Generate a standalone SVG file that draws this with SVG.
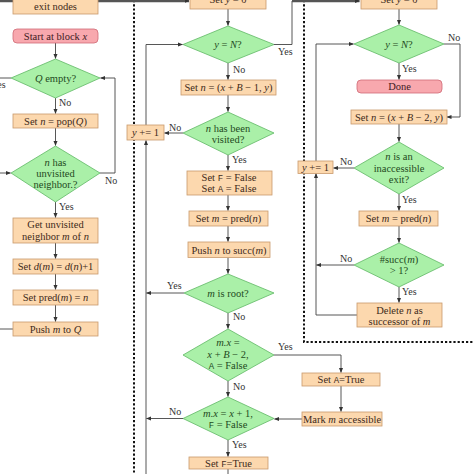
<svg xmlns="http://www.w3.org/2000/svg" width="474" height="474" viewBox="0 0 474 474">
<style>
text{font-family:"Liberation Serif","DejaVu Serif",serif;font-size:10.5px;text-anchor:middle}
.i{font-style:italic}
.tt{font-family:"Liberation Mono","DejaVu Sans Mono",monospace;font-size:9px}
.box rect{fill:#FCD8AE;stroke:#C99A6C;stroke-width:0.8}
.box text{fill:#3E2A1A}
.dia polygon{fill:#AAF0A8;stroke:#5FB865;stroke-width:0.8}
.dia text{fill:#1F4A22}
.term rect{fill:#F8A8AE;stroke:#CF6B76;stroke-width:0.8}
.term text{fill:#3E1A1E}
.lbl{fill:#333;text-anchor:start;font-size:10px}
#conn path{fill:none;stroke:#444;stroke-width:0.9}
.dash{fill:none;stroke:#111;stroke-width:2;stroke-dasharray:2.2 2}
</style>
<defs>
<marker id="ar" viewBox="0 0 10 10" refX="9" refY="5" markerWidth="5" markerHeight="5" orient="auto" markerUnits="userSpaceOnUse">
<path d="M0,1 L10,5 L0,9 z" fill="#333"/>
</marker>
</defs>
<rect width="474" height="474" fill="#fff"/>
<g id="dashed">
<path class="dash" d="M134,0 V474"/>
<path class="dash" d="M304,0 V342 H474"/>
</g>
<g id="conn">
<path d="M0,1 H189" style="stroke:#555;stroke-width:2.6" marker-end="url(#ar)"/>
<path d="M55.5,43 V58.5" marker-end="url(#ar)"/>
<path d="M11,78 H-5"/>
<path d="M55.5,98 V113.5" marker-end="url(#ar)"/>
<path d="M55.5,128 V145.5" marker-end="url(#ar)"/>
<path d="M-5,173 H10.5" marker-end="url(#ar)"/>
<path d="M100,173 H115 V78 H100.5" marker-end="url(#ar)"/>
<path d="M55.5,202 V217.5" marker-end="url(#ar)"/>
<path d="M55.5,243 V258.5" marker-end="url(#ar)"/>
<path d="M55.5,274 V289.5" marker-end="url(#ar)"/>
<path d="M55.5,305 V321.5" marker-end="url(#ar)"/>
<path d="M13,329 H-5"/>
<path d="M228,9 V25.5" marker-end="url(#ar)"/>
<path d="M274,44.5 H292 V1"/>
<path d="M292,1 H359.5" style="stroke:#555;stroke-width:2.6" marker-end="url(#ar)"/>
<path d="M228,63 V79.5" marker-end="url(#ar)"/>
<path d="M228,95 V111.5" marker-end="url(#ar)"/>
<path d="M183,133 H164.5" marker-end="url(#ar)"/>
<path d="M146,125 V44.5 H182.5" marker-end="url(#ar)"/>
<path d="M146,480 V140.5" marker-end="url(#ar)"/>
<path d="M228,155 V170.5" marker-end="url(#ar)"/>
<path d="M228,195 V210.5" marker-end="url(#ar)"/>
<path d="M228,226 V241.5" marker-end="url(#ar)"/>
<path d="M228,257.5 V273.5" marker-end="url(#ar)"/>
<path d="M184,293 H146.5" marker-end="url(#ar)"/>
<path d="M228,313 V328.5" marker-end="url(#ar)"/>
<path d="M274,355 H341 V372.5" marker-end="url(#ar)"/>
<path d="M341,386 V411.5" marker-end="url(#ar)"/>
<path d="M302,419 H274.5" marker-end="url(#ar)"/>
<path d="M228,381 V396.5" marker-end="url(#ar)"/>
<path d="M183,418.5 H146.5" marker-end="url(#ar)"/>
<path d="M228,440 V456.5" marker-end="url(#ar)"/>
<path d="M228,469 V480"/>
<path d="M399,9 V24.5" marker-end="url(#ar)"/>
<path d="M444,44 H460 V117 H447" marker-end="url(#ar)"/>
<path d="M399,63 V79.5" marker-end="url(#ar)"/>
<path d="M399,124 V141.5" marker-end="url(#ar)"/>
<path d="M354,168 H333.5" marker-end="url(#ar)"/>
<path d="M316,161 V44 H353.5" marker-end="url(#ar)"/>
<path d="M357,315 H316 V173.5" marker-end="url(#ar)"/>
<path d="M399,194 V210.5" marker-end="url(#ar)"/>
<path d="M399,226 V242.5" marker-end="url(#ar)"/>
<path d="M354,265 H316.5" marker-end="url(#ar)"/>
<path d="M399,287 V302.5" marker-end="url(#ar)"/>
</g>
<g id="labels">
<text class="lbl" x="-9" y="88">Yes</text>
<text class="lbl" x="59" y="106">No</text>
<text class="lbl" x="105" y="184">No</text>
<text class="lbl" x="59" y="210">Yes</text>
<text class="lbl" x="278" y="55">Yes</text>
<text class="lbl" x="233" y="73">No</text>
<text class="lbl" x="169" y="130.5">No</text>
<text class="lbl" x="232" y="163">Yes</text>
<text class="lbl" x="167" y="289">Yes</text>
<text class="lbl" x="233" y="320">No</text>
<text class="lbl" x="278" y="349.5">Yes</text>
<text class="lbl" x="233" y="390">No</text>
<text class="lbl" x="169" y="415">No</text>
<text class="lbl" x="232" y="448">Yes</text>
<text class="lbl" x="448" y="41">No</text>
<text class="lbl" x="402" y="72">Yes</text>
<text class="lbl" x="340" y="165">No</text>
<text class="lbl" x="402" y="203">Yes</text>
<text class="lbl" x="340" y="262">No</text>
<text class="lbl" x="402" y="295">Yes</text>
</g>
<g id="n_exit" class="box"><rect x="13" y="-16" width="85" height="30"/><text x="55.5" y="10">exit nodes</text></g>
<g id="n_start" class="term"><rect x="13" y="29" width="85" height="14" rx="4"/><text x="55.5" y="39.5">Start at block <tspan class="i">x</tspan></text></g>
<g id="n_qempty" class="dia"><polygon points="55.5,59 100,78 55.5,98 11,78"/><text x="55.5" y="81.5"><tspan class="i">Q</tspan> empty?</text></g>
<g id="n_pop" class="box"><rect x="13" y="114" width="85" height="14"/><text x="55.5" y="124.5">Set <tspan class="i">n</tspan> = pop(<tspan class="i">Q</tspan>)</text></g>
<g id="n_unvis" class="dia"><polygon points="55.5,146 100,173 55.5,202 11,173"/><text x="55.5" y="166"><tspan class="i">n</tspan> has</text><text x="55.5" y="177">unvisited</text><text x="55.5" y="188">neighbor.?</text></g>
<g id="n_get" class="box"><rect x="13" y="218" width="85" height="25"/><text x="55.5" y="227.5">Get unvisited</text><text x="55.5" y="240">neighbor <tspan class="i">m</tspan> of <tspan class="i">n</tspan></text></g>
<g id="n_setd" class="box"><rect x="13" y="259" width="85" height="15"/><text x="55.5" y="270">Set <tspan class="i">d</tspan>(<tspan class="i">m</tspan>) = <tspan class="i">d</tspan>(<tspan class="i">n</tspan>)+1</text></g>
<g id="n_pred" class="box"><rect x="13" y="290" width="85" height="15"/><text x="55.5" y="301">Set pred(<tspan class="i">m</tspan>) = <tspan class="i">n</tspan></text></g>
<g id="n_push" class="box"><rect x="13" y="322" width="85" height="14"/><text x="55.5" y="332.5">Push <tspan class="i">m</tspan> to <tspan class="i">Q</tspan></text></g>
<g id="m_y0" class="box"><rect x="190" y="-8" width="76" height="17"/><text x="228" y="3">Set <tspan class="i">y</tspan> = 0</text></g>
<g id="m_yN" class="dia"><polygon points="228,26 274,44.5 228,63 183,44.5"/><text x="228" y="48"><tspan class="i">y</tspan> = <tspan class="i">N</tspan>?</text></g>
<g id="m_setn" class="box"><rect x="181" y="80" width="95" height="15"/><text x="228.5" y="91">Set <tspan class="i">n</tspan> = (<tspan class="i">x</tspan> + <tspan class="i">B</tspan> − 1, <tspan class="i">y</tspan>)</text></g>
<g id="m_visited" class="dia"><polygon points="228,112 274,133 228,155 183,133"/><text x="228" y="131.5"><tspan class="i">n</tspan> has been</text><text x="228" y="142.5">visited?</text></g>
<g id="m_yinc" class="box"><rect x="127" y="125" width="37" height="15"/><text x="145.5" y="136"><tspan class="i">y</tspan> += 1</text></g>
<g id="m_setFA" class="box"><rect x="187" y="171" width="85" height="24"/><text x="229" y="180.5">Set <tspan class="tt">F</tspan> = False</text><text x="229" y="192">Set <tspan class="tt">A</tspan> = False</text></g>
<g id="m_setm" class="box"><rect x="189" y="211" width="79" height="15"/><text x="228.5" y="222">Set <tspan class="i">m</tspan> = pred(<tspan class="i">n</tspan>)</text></g>
<g id="m_pushn" class="box"><rect x="188" y="242" width="82" height="15.5"/><text x="229" y="253.5">Push <tspan class="i">n</tspan> to succ(<tspan class="i">m</tspan>)</text></g>
<g id="m_root" class="dia"><polygon points="228,274 274,293 228,313 184,293"/><text x="228" y="296.5"><tspan class="i">m</tspan> is root?</text></g>
<g id="m_mx2" class="dia"><polygon points="228,329 274,355 228,381 183,355"/><text x="228" y="346"><tspan class="i">m.x</tspan> =</text><text x="228" y="357.5"><tspan class="i">x</tspan> + <tspan class="i">B</tspan> − 2,</text><text x="228" y="369"><tspan class="tt">A</tspan> = False</text></g>
<g id="m_setA" class="box"><rect x="302" y="373" width="78" height="13"/><text x="341" y="382.5">Set <tspan class="tt">A</tspan>=True</text></g>
<g id="m_mark" class="box"><rect x="302" y="412" width="80" height="14"/><text x="342" y="422.5">Mark <tspan class="i">m</tspan> accessible</text></g>
<g id="m_mx1" class="dia"><polygon points="228,397 274,418.5 228,440 183,418.5"/><text x="228" y="417"><tspan class="i">m.x</tspan> = <tspan class="i">x</tspan> + 1,</text><text x="228" y="428"><tspan class="tt">F</tspan> = False</text></g>
<g id="m_setF" class="box"><rect x="189" y="457" width="79" height="12"/><text x="228.5" y="466.5">Set <tspan class="tt">F</tspan>=True</text></g>
<g id="r_y0" class="box"><rect x="361" y="-8" width="76" height="17"/><text x="399" y="3">Set <tspan class="i">y</tspan> = 0</text></g>
<g id="r_yN" class="dia"><polygon points="399,25 444,44 399,63 354,44"/><text x="399" y="47.5"><tspan class="i">y</tspan> = <tspan class="i">N</tspan>?</text></g>
<g id="r_done" class="term"><rect x="357" y="80" width="85" height="13" rx="4"/><text x="399.5" y="89.5">Done</text></g>
<g id="r_setn" class="box"><rect x="351" y="110" width="96" height="14"/><text x="399" y="120.5">Set <tspan class="i">n</tspan> = (<tspan class="i">x</tspan> + <tspan class="i">B</tspan> − 2, <tspan class="i">y</tspan>)</text></g>
<g id="r_inacc" class="dia"><polygon points="399,142 444,168 399,194 354,168"/><text x="399" y="160"><tspan class="i">n</tspan> is an</text><text x="399" y="171.5">inaccessible</text><text x="399" y="183">exit?</text></g>
<g id="r_yinc" class="box"><rect x="298" y="161" width="35" height="12.5"/><text x="315.5" y="170.5"><tspan class="i">y</tspan> += 1</text></g>
<g id="r_setm" class="box"><rect x="359" y="211" width="79" height="15"/><text x="398.5" y="222">Set <tspan class="i">m</tspan> = pred(<tspan class="i">n</tspan>)</text></g>
<g id="r_succ" class="dia"><polygon points="399,243 444,265 399,287 354,265"/><text x="399" y="262.5">#succ(<tspan class="i">m</tspan>)</text><text x="399" y="274">&gt; 1?</text></g>
<g id="r_del" class="box"><rect x="357" y="303" width="85" height="24"/><text x="399.5" y="313.5">Delete <tspan class="i">n</tspan> as</text><text x="399.5" y="325">successor of <tspan class="i">m</tspan></text></g>
</svg>
